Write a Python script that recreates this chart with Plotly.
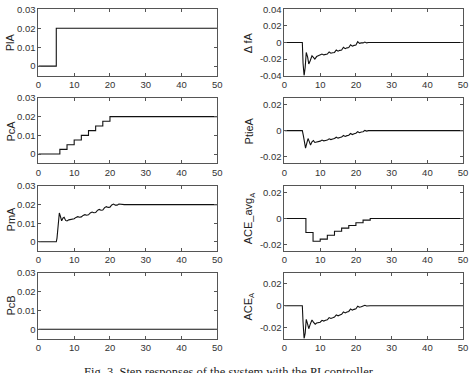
import plotly.graph_objects as go
from plotly.subplots import make_subplots

# ---- data ----
t_plA = [0, 5, 50]
plA = [0, 0.02, 0.02]

t_pcA = [0, 6, 8, 10, 12, 14, 16, 18, 20, 50]
pcA = [0, 0.0025, 0.005, 0.0075, 0.01, 0.0125, 0.015, 0.0175, 0.02, 0.02]

t_pmA = [0, 5.0, 5.2, 5.4, 5.6, 5.85, 6.1, 6.5, 6.9, 7.2, 7.6, 8.0, 8.5, 9.0, 9.5, 10, 10.5, 11, 11.5, 12,
         12.5, 13, 13.5, 14, 14.5, 15, 15.5, 16, 16.5, 17, 17.5, 18, 18.5, 19, 19.5, 20, 20.5, 21, 21.5, 22,
         22.5, 23, 23.5, 24, 50]
pmA = [0, 0, 0.002, 0.006, 0.012, 0.0155, 0.014, 0.0113, 0.0128, 0.0132, 0.0115, 0.0112, 0.0118, 0.012,
       0.0122, 0.0124, 0.0131, 0.0135, 0.0132, 0.0134, 0.0142, 0.0146, 0.0143, 0.0145, 0.0155, 0.0160,
       0.0156, 0.0157, 0.0169, 0.0174, 0.0170, 0.0171, 0.0184, 0.0189, 0.0185, 0.0186, 0.0198, 0.0203,
       0.0197, 0.0197, 0.0203, 0.0202, 0.0199, 0.02, 0.02]

t_pcB = [0, 50]
pcB = [0, 0]

t_df = [0, 5.0, 5.2, 5.5, 5.8, 6.1, 6.5, 6.8, 7.2, 7.7, 8.1, 8.5, 9.0, 9.5, 10.0, 10.5, 11.0, 11.5, 12.0,
        12.5, 13.0, 13.5, 14.0, 14.5, 15, 15.5, 16, 16.5, 17, 17.5, 18, 18.5, 19, 19.5, 20, 20.5, 21, 21.5,
        22, 22.5, 23, 23.5, 24, 50]
dfA = [0, 0, -0.025, -0.040, -0.030, -0.012, -0.018, -0.026, -0.022, -0.016, -0.018, -0.020, -0.017,
       -0.016, -0.0155, -0.0140, -0.0150, -0.0145, -0.0140, -0.0115, -0.0130, -0.0125, -0.0120, -0.0090,
       -0.0105, -0.0095, -0.0090, -0.0058, -0.0075, -0.0065, -0.0060, -0.0028, -0.0045, -0.0035, -0.0030,
       0.0010, -0.0010, -0.0005, -0.0005, 0.0005, -0.0005, 0.0, 0, 0]

t_tie = [0, 5, 5.3, 5.6, 5.9, 6.2, 6.6, 6.9, 7.3, 7.7, 8.1, 8.5, 9, 9.5, 10, 10.5, 11, 11.5, 12, 12.5, 13,
         13.5, 14, 14.5, 15, 15.5, 16, 16.5, 17, 17.5, 18, 18.5, 19, 19.5, 20, 20.5, 21, 21.5, 22, 22.5, 23,
         23.5, 50]
ptieA = [0, 0, -0.004, -0.010, -0.0134, -0.010, -0.006, -0.008, -0.011, -0.0085, -0.0075, -0.009, -0.0088,
         -0.0082, -0.008, -0.0072, -0.0078, -0.0075, -0.0072, -0.0062, -0.0068, -0.0064, -0.006, -0.0050,
         -0.0057, -0.0052, -0.0049, -0.0037, -0.0044, -0.0038, -0.0035, -0.0022, -0.003, -0.0024, -0.002,
         -0.0008, -0.0016, -0.001, -0.0008, 0.0002, -0.0003, 0.0, 0]

t_avg = [0, 6, 8, 10, 12, 14, 16, 18, 20, 22, 24, 50]
ace_avg = [0, -0.0107, -0.0175, -0.0158, -0.0128, -0.0098, -0.0074, -0.0054, -0.0032, -0.0012, 0, 0]

t_ace = [0, 5, 5.2, 5.5, 5.8, 6.1, 6.5, 6.8, 7.2, 7.7, 8.1, 8.6, 9.0, 9.5, 10, 10.5, 11, 11.5, 12, 12.5, 13,
         13.5, 14, 14.5, 15, 15.5, 16, 16.5, 17, 17.5, 18, 18.5, 19, 19.5, 20, 20.5, 21, 21.5, 22, 22.5, 23,
         23.5, 24, 50]
aceA = [0, 0, -0.015, -0.030, -0.025, -0.0124, -0.017, -0.021, -0.017, -0.013, -0.015, -0.0168, -0.0158,
        -0.0152, -0.015, -0.0133, -0.014, -0.0133, -0.0128, -0.0108, -0.0116, -0.011, -0.0103, -0.0083,
        -0.0092, -0.0085, -0.0078, -0.0056, -0.0066, -0.0058, -0.0052, -0.003, -0.004, -0.0033, -0.0027,
        -0.0004, -0.0014, -0.001, -0.0006, 0.0004, -0.0002, 0, 0, 0]

x_ticks = [0, 10, 20, 30, 40, 50]
left_yticks = [0, 0.01, 0.02, 0.03]
left_ylabels = ["0", "0.01", "0.02", "0.03"]

labels_left = ["PlA", "PcA", "PmA", "PcB"]
labels_right = ["Δ fA", "PtieA", "ACE_avg<sub>A</sub>", "ACE<sub>A</sub>"]
caption = "Fig. 3. Step responses of the system with the PI controller"

# ---- figure ----
fig = make_subplots(rows=4, cols=2)
W, H = 474, 373
line = dict(color="#111111", width=1.1)

left = [(t_plA, plA, "hv"), (t_pcA, pcA, "hv"), (t_pmA, pmA, "linear"), (t_pcB, pcB, "hv")]
right = [(t_df, dfA, "linear"), (t_tie, ptieA, "linear"), (t_avg, ace_avg, "hv"), (t_ace, aceA, "linear")]
for i, (tx, ty, sh) in enumerate(left):
    fig.add_trace(go.Scatter(x=tx, y=ty, mode="lines", line=dict(line, shape=sh), showlegend=False), row=i + 1, col=1)
for i, (tx, ty, sh) in enumerate(right):
    fig.add_trace(go.Scatter(x=tx, y=ty, mode="lines", line=dict(line, shape=sh), showlegend=False), row=i + 1, col=2)

rows_px = [(3.5, 71.7), (94.7, 162.2), (185.5, 252.5), (275, 342.7)]
colL = (36 / W, 218 / W)
colR = (286.3 / W, 468 / W)

right_ranges = [[-0.04, 0.04], [-0.025, 0.025], [-0.025, 0.025], [-0.03, 0.03]]
right_ticks = [[-0.04, -0.02, 0, 0.02, 0.04], [-0.02, 0, 0.02], [-0.02, 0, 0.02], [-0.02, 0, 0.02]]
right_ticktext = [["-0.04", "-0.02", "0", "0.02", "0.04"], ["-0.02", "0", "0.02"], ["-0.02", "0", "0.02"],
                  ["-0.02", "0", "0.02"]]

axis_common = dict(showline=True, mirror="ticks", linecolor="#555555", linewidth=1, ticks="inside",
                   ticklen=3, tickcolor="#555555", showgrid=False, zeroline=False,
                   tickfont=dict(family="Liberation Sans, Arial", size=9.5, color="#333333"))

for r in range(4):
    top, bot = rows_px[r]
    dom = [1 - bot / H, 1 - top / H]
    idx = 2 * r + 1
    xa = "xaxis" if idx == 1 else f"xaxis{idx}"
    ya = "yaxis" if idx == 1 else f"yaxis{idx}"
    fig.layout[xa].update(domain=colL, range=[0, 50], tickvals=x_ticks, **axis_common)
    fig.layout[ya].update(domain=dom, range=[-0.005, 0.03], tickvals=left_yticks, ticktext=left_ylabels,
                          **axis_common)
    idx = 2 * r + 2
    xa = f"xaxis{idx}"
    ya = f"yaxis{idx}"
    fig.layout[xa].update(domain=colR, range=[0, 50], tickvals=x_ticks, **axis_common)
    fig.layout[ya].update(domain=dom, range=right_ranges[r], tickvals=right_ticks[r],
                          ticktext=right_ticktext[r], **axis_common)
    ymid = 1 - (top + bot) / 2 / H
    fig.add_annotation(text=labels_left[r], x=8 / W, y=ymid, xref="paper", yref="paper", textangle=-90,
                       showarrow=False, xanchor="center", yanchor="middle",
                       font=dict(family="Liberation Sans, Arial", size=11, color="#222222"))
    fig.add_annotation(text=labels_right[r], x=250 / W, y=ymid, xref="paper", yref="paper", textangle=-90,
                       showarrow=False, xanchor="center", yanchor="middle",
                       font=dict(family="Liberation Sans, Arial", size=11, color="#222222"))

fig.add_annotation(text=caption, x=230 / W, y=1 - 368 / H, xref="paper", yref="paper", showarrow=False,
                   xanchor="center", yanchor="top",
                   font=dict(family="Liberation Serif, Times New Roman", size=12.5, color="#222222"))

fig.update_layout(width=W, height=H, margin=dict(l=0, r=0, t=0, b=0), plot_bgcolor="white",
                  paper_bgcolor="white")
fig.write_html("out.html", config={"displayModeBar": False},
               post_script="document.body.style.margin='0';document.body.style.overflow='hidden';")
